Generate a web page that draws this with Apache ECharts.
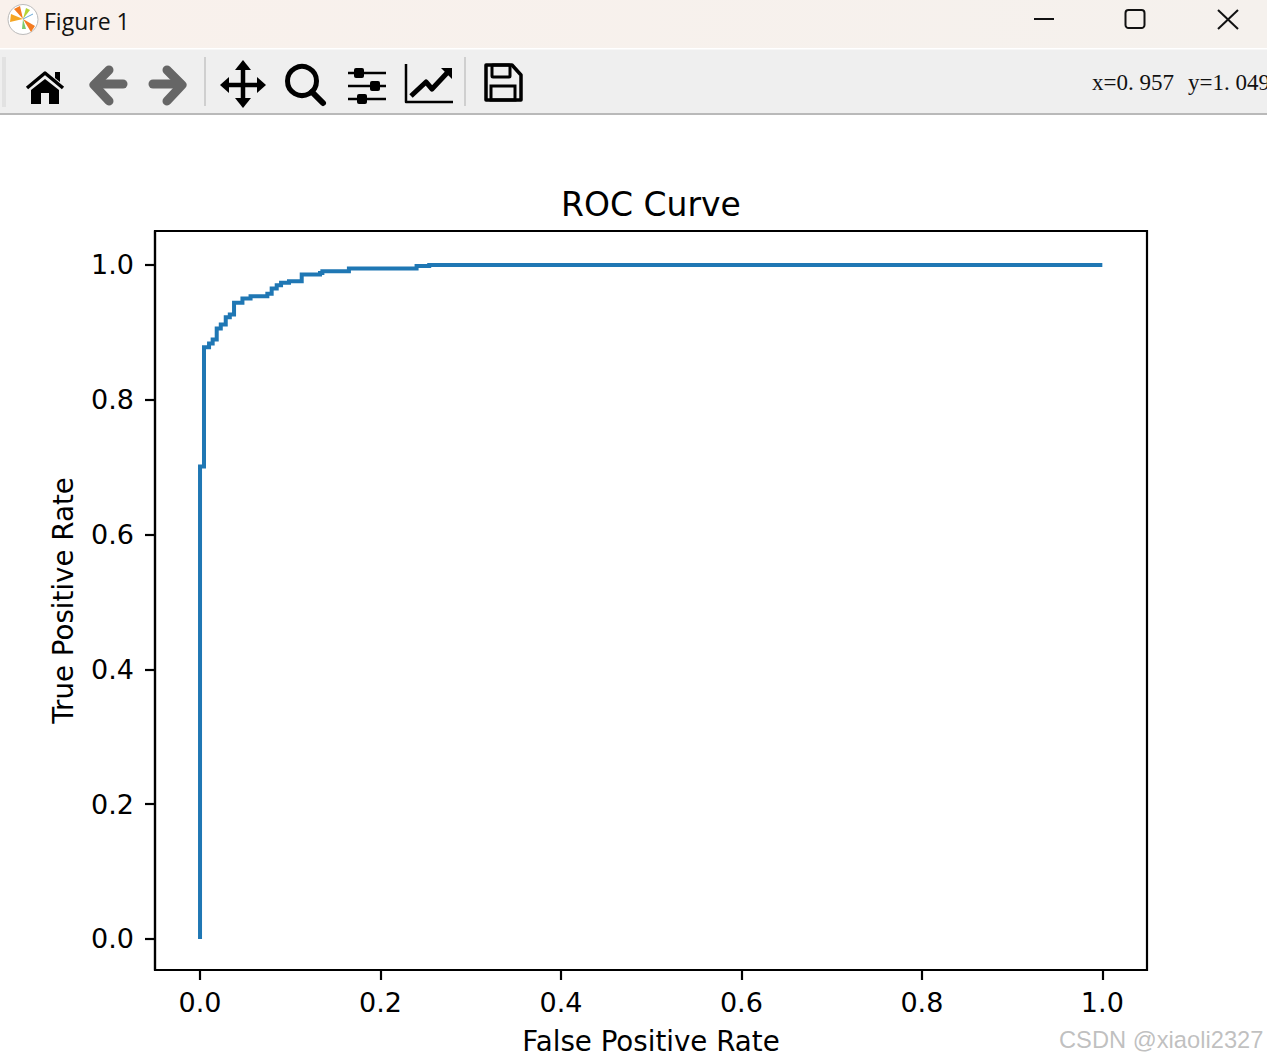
<!DOCTYPE html>
<html lang="en">
<head>
    <meta charset="UTF-8">
    <title>ROC Curve</title>
    <script src="https://cdnjs.cloudflare.com/ajax/libs/echarts/6.0.0/echarts.min.js"></script>
    <style>
        html, body { margin: 0; padding: 0; background: #fff; overflow: hidden; }
        #main { width: 1267px; height: 1061px; }
    </style>
</head>
<body>
    <div id="main"></div>
    <script>
        // values
        const fpr = [0, 0, 0.0044, 0.0044, 0.010, 0.010, 0.014, 0.014, 0.0185, 0.0185, 0.023, 0.023, 0.0285, 0.0285, 0.033, 0.033, 0.0377, 0.0377, 0.047, 0.047, 0.056, 0.056, 0.0746, 0.0746, 0.0794, 0.0794, 0.085, 0.085, 0.0898, 0.0898, 0.0986, 0.0986, 0.1127, 0.1127, 0.133, 0.133, 0.1356, 0.1356, 0.165, 0.165, 0.240, 0.240, 0.254, 0.254, 1];
        const tpr = [0, 0.701, 0.701, 0.878, 0.878, 0.8835, 0.8835, 0.8895, 0.8895, 0.9058, 0.9058, 0.9118, 0.9118, 0.9226, 0.9226, 0.9266, 0.9266, 0.9439, 0.9439, 0.9503, 0.9503, 0.9537, 0.9537, 0.9573, 0.9573, 0.9651, 0.9651, 0.97, 0.97, 0.9736, 0.9736, 0.976, 0.976, 0.986, 0.986, 0.988, 0.988, 0.9907, 0.9907, 0.9948, 0.9948, 0.9985, 0.9985, 1, 1];
        const tickValues = [0, 0.2, 0.4, 0.6, 0.8, 1];

        const font = "'DejaVu Sans', sans-serif";
        const black = '#000';

        function line(points, color, width, cap) {
            return { type: 'polyline', shape: { points: points }, silent: true,
                style: { stroke: color, lineWidth: width, fill: null, lineCap: cap || 'butt', lineJoin: 'round' } };
        }
        function box(x, y, w, h, color, r) {
            return { type: 'rect', shape: { x: x, y: y, width: w, height: h, r: r || 0 }, silent: true, style: { fill: color } };
        }
        function poly(points, color) {
            return { type: 'polygon', shape: { points: points }, silent: true, style: { fill: color } };
        }

        // window title bar and toolbar
        const chrome = [
            box(0, 0, 1267, 48, { type: 'linear', x: 0, y: 0, x2: 1, y2: 0, colorStops: [{ offset: 0, color: '#f9f1ec' }, { offset: 1, color: '#f5f1ed' }] }),
            box(0, 48, 1267, 1.5, '#ffffff'),
            box(0, 49.5, 1267, 63.5, '#efefef'),
            box(0, 113, 1267, 2, '#b9b9b9'),
            // logo
            { type: 'circle', shape: { cx: 23, cy: 19.5, r: 15 }, silent: true, style: { fill: '#fff', stroke: '#bbb', lineWidth: 1 } },
            poly([[23, 19], [20, 6], [14, 9]], '#f47b20'),
            poly([[23, 19], [11, 14], [10, 22]], '#f5a623'),
            poly([[23, 19], [35, 26], [31, 32]], '#f47b20'),
            poly([[23, 19], [30, 10], [26, 8]], '#b5d334'),
            poly([[23, 19], [26, 29], [22, 29]], '#7ccb6f'),
            line([[23, 19], [33, 14]], '#6aa9d8', 1),
            { type: 'text', x: 44, y: 20.5, silent: true, style: { text: 'Figure 1', font: "23px 'Open Sans', sans-serif", fill: '#111', verticalAlign: 'middle' } },
            line([[1034, 19], [1054, 19]], '#111', 2),
            { type: 'rect', shape: { x: 1125.5, y: 10, width: 19, height: 18, r: 3 }, silent: true, style: { fill: null, stroke: '#111', lineWidth: 2 } },
            line([[1218, 10], [1238, 29]], '#111', 2),
            line([[1238, 10], [1218, 29]], '#111', 2),
            // grip
            { type: 'rect', shape: { x: 2, y: 57, width: 4, height: 50 }, silent: true, style: { fill: '#e2e2e2' } },
            // home
            line([[27, 88], [45, 73], [63, 88]], black, 3.5),
            poly([[55, 72], [60, 72], [60, 82], [55, 78]], black),
            poly([[45, 79], [59, 90], [59, 104], [49, 104], [49, 93], [41, 93], [41, 104], [31, 104], [31, 90]], black),
            // back, forward
            line([[123, 84], [96, 84]], '#666', 9, 'round'),
            line([[109, 70], [94, 85], [109, 101]], '#666', 9, 'round'),
            line([[153, 84], [180, 84]], '#666', 9, 'round'),
            line([[167, 70], [182, 85], [167, 101]], '#666', 9, 'round'),
            box(204, 57, 2, 49, '#cfcfcf'),
            // move
            line([[243, 68], [243, 102]], black, 4.5),
            line([[226, 85], [260, 85]], black, 4.5),
            poly([[243, 60], [251, 70], [235, 70]], black),
            poly([[243, 108], [251, 98], [235, 98]], black),
            poly([[220, 85], [229, 77], [229, 93]], black),
            poly([[266, 85], [257, 77], [257, 93]], black),
            // zoom
            { type: 'circle', shape: { cx: 302, cy: 81, r: 14.5 }, silent: true, style: { fill: null, stroke: black, lineWidth: 5 } },
            line([[312, 92], [323, 103]], black, 6, 'round'),
            // sliders
            line([[348, 73], [386, 73]], black, 2.5),
            line([[348, 86], [386, 86]], black, 2.5),
            line([[348, 99], [386, 99]], black, 2.5),
            box(354, 68, 10, 10, black, 2), box(370, 81, 10, 10, black, 2), box(357, 94, 10, 10, black, 2),
            // axes icon
            line([[406, 64], [406, 102], [453, 102]], black, 2.5),
            line([[411, 96], [426, 82], [432, 89], [447, 73]], black, 5),
            poly([[441, 68], [452, 68], [452, 79]], black),
            box(464, 57, 2, 49, '#cfcfcf'),
            // save
            { type: 'polygon', shape: { points: [[486, 65], [512, 65], [521, 75], [521, 100], [486, 100]] }, silent: true, style: { fill: null, stroke: black, lineWidth: 3.5, lineJoin: 'round' } },
            { type: 'rect', shape: { x: 492, y: 65, width: 18, height: 12, r: 1 }, silent: true, style: { fill: null, stroke: black, lineWidth: 3 } },
            { type: 'rect', shape: { x: 491, y: 86, width: 24, height: 14 }, silent: true, style: { fill: null, stroke: black, lineWidth: 3 } },
            { type: 'text', x: 1092, y: 82.5, silent: true, style: { text: 'x=0. 957', font: "23px 'Liberation Serif', serif", fill: '#111', verticalAlign: 'middle' } },
            { type: 'text', x: 1188, y: 82.5, silent: true, style: { text: 'y=1. 049', font: "23px 'Liberation Serif', serif", fill: '#111', verticalAlign: 'middle' } },
            // watermark
            { type: 'text', x: 1059, y: 1040, silent: true, style: { text: 'CSDN @xiaoli2327', font: "23.7px 'Liberation Sans', sans-serif", fill: 'rgba(130,130,130,0.5)', verticalAlign: 'middle' } }
        ];

        // svg renderer: canvas merges the 1-2px steps of the curve
        const myChart = echarts.init(document.getElementById('main'), null, { renderer: 'svg' });
        const axisCommon = {
            type: 'value',
            nameLocation: 'middle',
            nameTextStyle: { color: black, fontFamily: font, fontSize: 27.7 },
            splitLine: { show: false },
            axisLine: { show: true, onZero: false, lineStyle: { color: black, width: 2.2 } },
            axisTick: { show: true, length: 10, customValues: tickValues, lineStyle: { color: black, width: 2.2 } },
            axisLabel: { color: black, fontFamily: font, fontSize: 27, customValues: tickValues,
                formatter: v => v.toFixed(1) }
        };
        myChart.setOption({
            animation: false,
            backgroundColor: '#fff',
            title: { text: 'ROC Curve', left: 646, top: 183, textAlign: 'center',
                textStyle: { color: black, fontFamily: font, fontSize: 33, fontWeight: 'normal' } },
            grid: { left: 155, top: 231, width: 992, height: 739, outerBoundsMode: 'none', show: true, borderColor: black, borderWidth: 2.2, backgroundColor: '#fff' },
            xAxis: Object.assign({}, axisCommon, { name: 'False Positive Rate', nameGap: 57, min: -0.0499, max: 1.0495,
                axisLabel: Object.assign({}, axisCommon.axisLabel, { margin: 19 }) }),
            yAxis: Object.assign({}, axisCommon, { name: 'True Positive Rate', nameGap: 78, min: -0.046, max: 1.0504,
                axisLabel: Object.assign({}, axisCommon.axisLabel, { margin: 21 }) }),
            series: [{
                type: 'line',
                data: fpr.map((v, i) => [v, tpr[i]]),
                showSymbol: false,
                lineStyle: { color: '#1f77b4', width: 4, join: 'miter' },
                clip: false
            }],
            graphic: { elements: chrome }
        });
        window.addEventListener('resize', () => myChart.resize());
    </script>
</body>
</html>
